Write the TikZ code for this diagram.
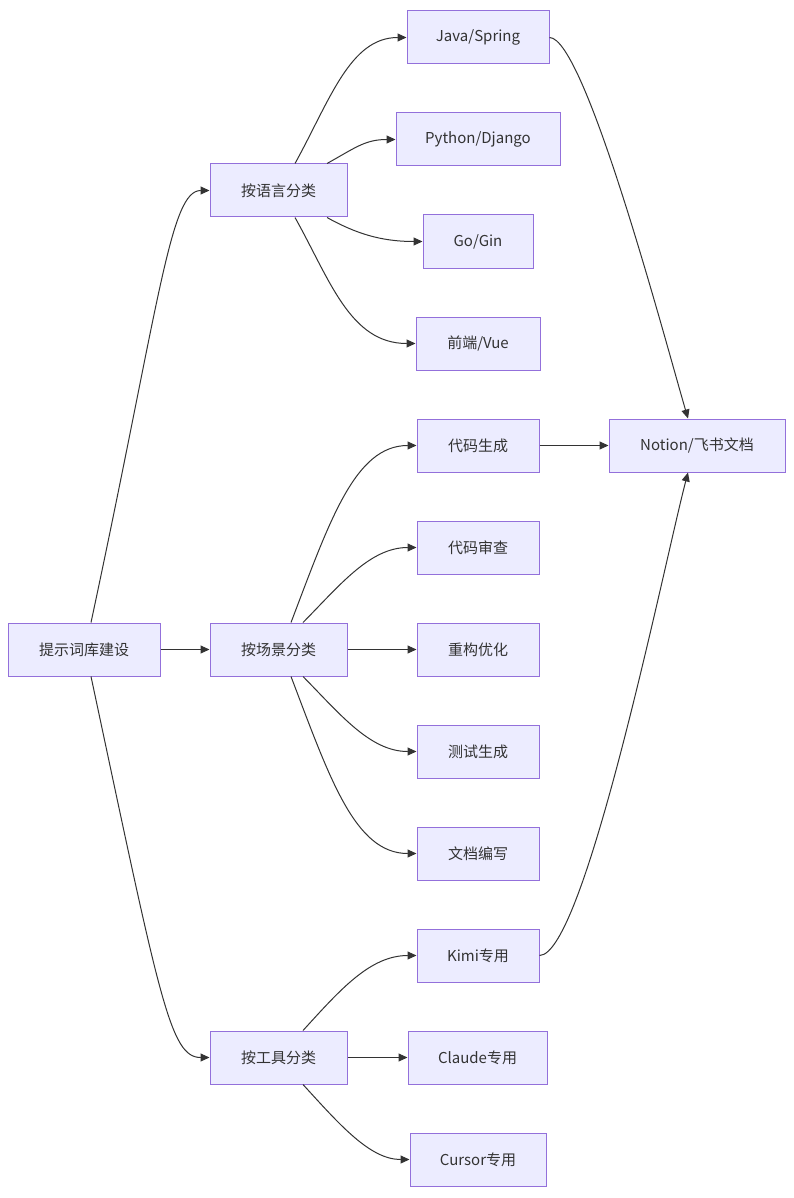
\documentclass[tikz,border=0pt]{standalone}
\usepackage{fontspec}
\setmainfont{Noto Sans CJK SC}
\usetikzlibrary{arrows.meta}
\definecolor{boxfill}{HTML}{ECECFF}
\definecolor{boxline}{HTML}{9370DB}
\definecolor{ink}{HTML}{333333}
\tikzset{
    >={Triangle[length=9pt,width=8pt]},
    box/.style={draw=boxline,fill=boxfill,line width=1pt,minimum height=53pt,inner sep=0pt,text=ink,font=\fontsize{15}{18}\selectfont},
    link/.style={->,draw=ink,line width=1pt},
}
\begin{document}
\begin{tikzpicture}[x=1pt,y=-1pt]
    \useasboundingbox (0,0) rectangle (793,1198);

    \node[box,minimum width=152pt] (root) at (84,649.5) {提示词库建设};
    \node[box,minimum width=137pt] (lang) at (278.5,190.5) {按语言分类};
    \node[box,minimum width=137pt] (scene) at (278.5,649.5) {按场景分类};
    \node[box,minimum width=137pt] (tool) at (278.5,1057.5) {按工具分类};

    \node[box,minimum width=142pt] (java) at (478,37.5) {Java/Spring};
    \node[box,minimum width=164pt] (python) at (478,139.5) {Python/Django};
    \node[box,minimum width=110pt] (go) at (478,241.5) {Go/Gin};
    \node[box,minimum width=124pt] (vue) at (478,343.5) {前端/Vue};

    \node[box,minimum width=122pt] (gen) at (478,445.5) {代码生成};
    \node[box,minimum width=122pt] (review) at (478,547.5) {代码审查};
    \node[box,minimum width=122pt] (refactor) at (478,649.5) {重构优化};
    \node[box,minimum width=122pt] (test) at (478,751.5) {测试生成};
    \node[box,minimum width=122pt] (doc) at (478,853.5) {文档编写};

    \node[box,minimum width=122pt] (kimi) at (478,955.5) {Kimi专用};
    \node[box,minimum width=139pt] (claude) at (477.5,1057.5) {Claude专用};
    \node[box,minimum width=136pt] (cursor) at (478,1159.5) {Cursor专用};

    \node[box,minimum width=176pt] (notion) at (697,445.5) {Notion/飞书文档};

    \draw[link] ([xshift=7pt]root.north) .. controls (160,300) and (170,190.5) .. (lang.west);
    \draw[link] (root) -- (scene);
    \draw[link] ([xshift=7pt]root.south) .. controls (160,1000) and (170,1057.5) .. (tool.west);

    \draw[link] ([xshift=16.5pt]lang.north) .. controls (330,100) and (350,37.5) .. (java.west);
    \draw[link] ([xshift=48.5pt]lang.north) .. controls (355,148) and (365,139.5) .. (python.west);
    \draw[link] ([xshift=48.5pt]lang.south) .. controls (355,233) and (380,241.5) .. (go.west);
    \draw[link] ([xshift=16.5pt]lang.south) .. controls (330,280) and (350,343.5) .. (vue.west);

    \draw[link] ([xshift=12.5pt]scene.north) .. controls (330,520) and (355,445.5) .. (gen.west);
    \draw[link] ([xshift=24.5pt]scene.north) .. controls (340,585) and (370,547.5) .. (review.west);
    \draw[link] (scene) -- (refactor);
    \draw[link] ([xshift=24.5pt]scene.south) .. controls (340,714) and (370,751.5) .. (test.west);
    \draw[link] ([xshift=12.5pt]scene.south) .. controls (330,779) and (355,853.5) .. (doc.west);

    \draw[link] ([xshift=24.5pt]tool.north) .. controls (340,990) and (370,955.5) .. (kimi.west);
    \draw[link] (tool) -- (claude);
    \draw[link] ([xshift=24.5pt]tool.south) .. controls (340,1125) and (370,1159.5) .. (cursor.west);

    \draw[link] (java.east) .. controls (585,37.5) and (665,340) .. ([xshift=-9pt]notion.north);
    \draw[link] (gen) -- (notion);
    \draw[link] (kimi.east) .. controls (585,955.5) and (665,560) .. ([xshift=-9pt]notion.south);
\end{tikzpicture}
\end{document}
